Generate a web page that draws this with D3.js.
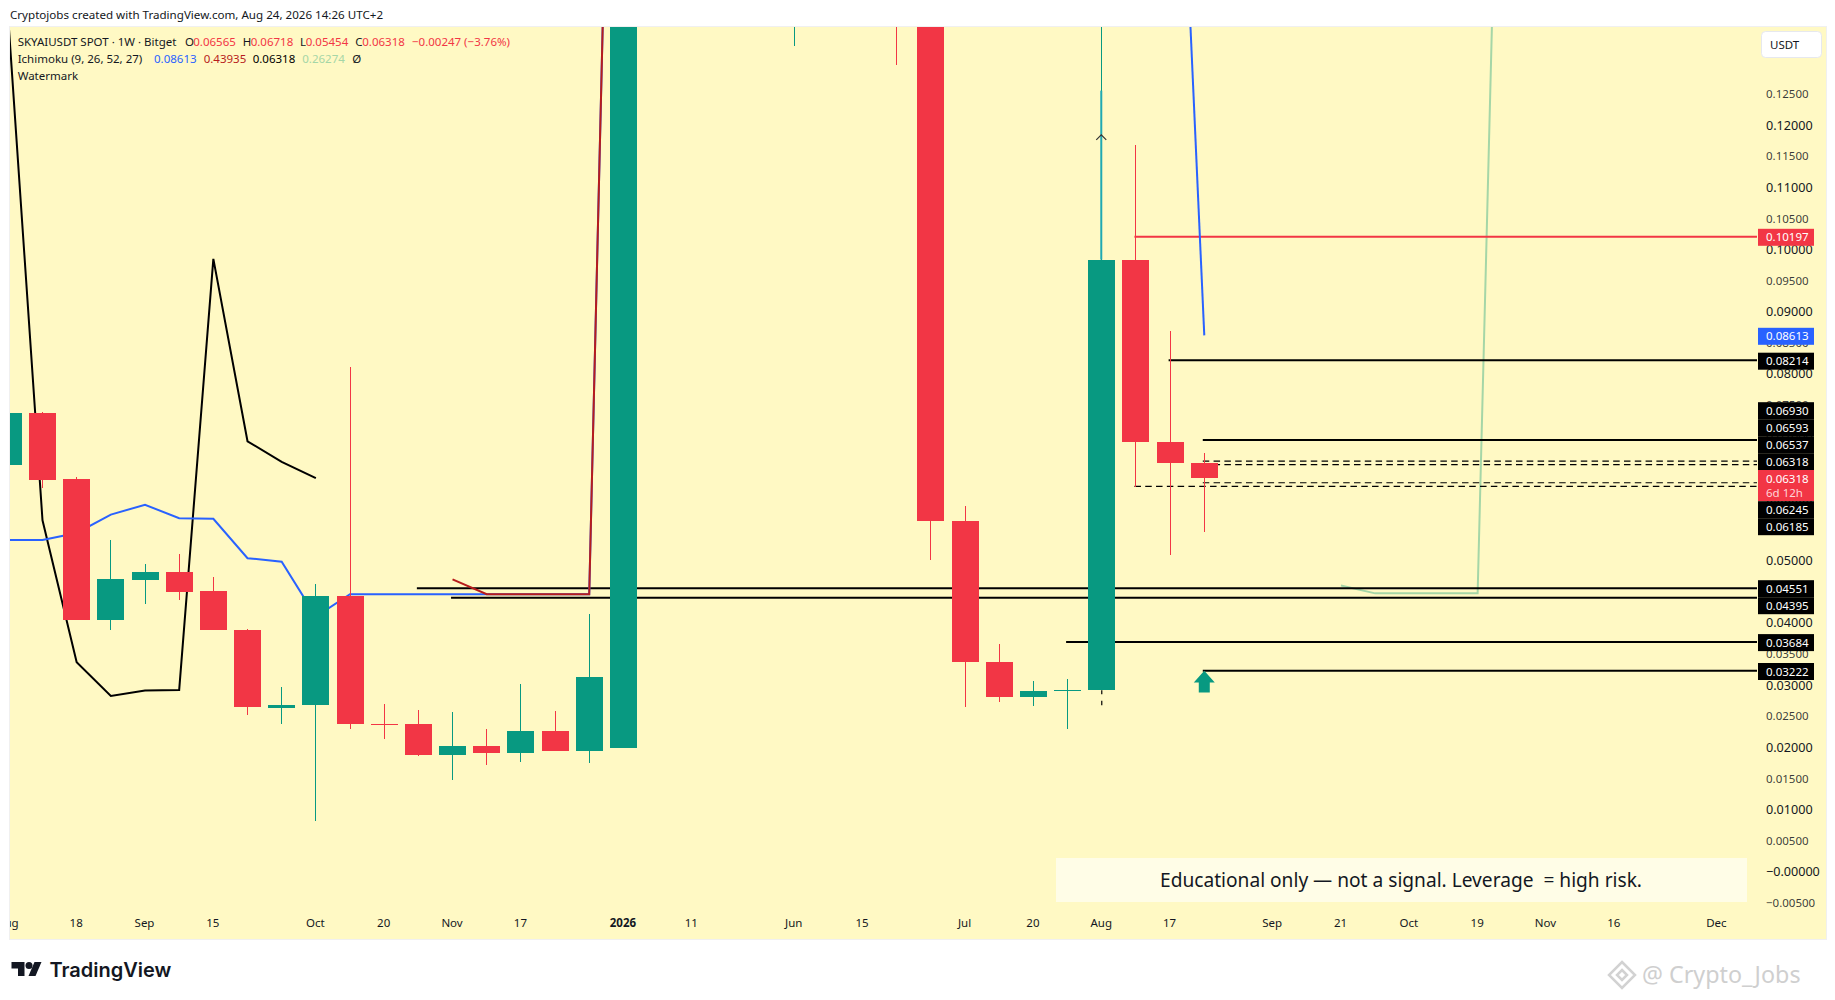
<!DOCTYPE html>
<html>
<head>
<meta charset="utf-8">
<title>SKYAIUSDT</title>
<script src="https://cdn.jsdelivr.net/npm/d3@7"></script>
<style>
  body { margin: 0; background: #fff; }
  svg text { font-family: "Noto Sans", sans-serif; }
</style>
</head>
<body>
<svg id="chart" width="1835" height="1000"></svg>
<script>
// week index, 0 = first full candle. -1 is the one cut by the left edge
var candleIndex = [-1, 0, 1, 2, 3, 4, 5, 6, 7, 8, 9, 10, 11, 12, 13, 14, 15, 16, 17, 22, 25, 26, 27, 28, 29, 30, 31, 32, 33, 34];
var opens  = [.06536, .07372, .06311, .04034, .04688, .04817, .04511, .03885, .02631, .02668, .04431, .02374, .02374, .01876, .02020, .01908, .02261, .01940, .01988, .19, .21, .21, .05636, .03370, .02797, .02910, .02909, .09831, .06906, .06565];
var closes = [.07372, .06295, .04034, .04704, .04817, .04495, .03873, .02636, .02679, .04431, .02363, .02361, .01876, .02020, .01908, .02261, .01940, .03129, .2, .2, .2, .05625, .03359, .02797, .02904, .02915, .09831, .06895, .06557, .06318];
var highs  = [.07372, .07388, .06344, .05331, .04945, .05106, .04736, .03901, .02969, .04624, .08104, .02695, .02599, .02567, .02294, .03017, .02583, .04142, .2, .2, .21, .21, .05878, .03660, .03065, .03097, .2, .11679, .08690, .06718];
var lows   = [.06536, .06167, .04034, .03873, .04291, .04367, .03873, .02507, .02363, .00804, .02282, .02121, .01848, .01463, .01704, .01752, .01940, .01736, .01988, .13259, .12954, .04998, .02636, .02716, .02652, .02282, .02909, .06178, .05079, .05454];

// ichimoku lines, index and value
var laggingIndex = [-1, 0, 1, 2, 3, 4, 5, 6, 7, 8];
var laggingValues = [.1369, .05641, .03359, .02819, .02904, .02915, .09843, .06911, .06580, .06318];
var conversionIndex = [-1, 0, 1, 2, 3, 4, 5, 6, 7, 8, 9, 13, 16, 17];
var conversionValues = [.05326, .05326, .05438, .05733, .05891, .05674, .05665, .05032, .04977, .04093, .04453, .04453, .04453, .276];
var conversion2Index = [33, 34];
var conversion2Values = [.2089, .08613];
var baseIndex = [12, 13, 16, 17];
var baseValues = [.04693, .04453, .04453, .276];
var spanIndex = [38, 39, 42, 43];
var spanValues = [.04593, .04467, .04467, .26274];

// drawn levels: price, first week index, dashed or not
var levelPrices = [.10197, .08214, .06930, .06593, .06537, .06245, .06185, .04551, .04395, .03684, .03222];
var levelStarts = [32, 33, 34, 34, 34, 34, 32, 11, 12, 30, 34];
var levelDashed = [false, false, false, true, true, true, true, false, false, false, false];
var levelColors = ["#f23645", "#000", "#000", "#000", "#000", "#000", "#000", "#000", "#000", "#000", "#000"];

// axis
var priceTicks = [-.005, 0, .005, .01, .015, .02, .025, .03, .035, .04, .045, .05, .055, .06, .065, .07, .075, .08, .085, .09, .095, .1, .105, .11, .115, .12, .125];
var timeTicks = [-1, 1, 3, 5, 8, 10, 12, 14, 17, 19, 22, 24, 27, 29, 31, 33, 36, 38, 40, 42, 44, 46, 49];
var timeLabels = ["Aug", "18", "Sep", "15", "Oct", "20", "Nov", "17", "2026", "11", "Jun", "15", "Jul", "20", "Aug", "17", "Sep", "21", "Oct", "19", "Nov", "16", "Dec"];

// tags on the price axis, with the y the axis pushed each one to
var tagTexts = ["0.10197", "0.08613", "0.08214", "0.06930", "0.06593", "0.06537", "0.06318", "0.06245", "0.06185", "0.04551", "0.04395", "0.03684", "0.03222"];
var tagYs = [237.3, 336.3, 361.2, 410.7, 427.7, 444.7, 461.7, 509.7, 526.7, 588.7, 605.7, 642.6, 671.5];
var tagColors = ["#f23645", "#2962ff", "#000", "#000", "#000", "#000", "#000", "#000", "#000", "#000", "#000", "#000", "#000"];

var RED = "#f23645", GREEN = "#089981", BG = "#fff9c4";
var plotLeft = 10, plotTop = 27, plotRight = 1826, plotBottom = 939, axisLeft = 1757;

var svg = d3.select("#chart");
var x = d3.scaleLinear().domain([0, 49]).range([42.5, 1716.83]);
var y = d3.scaleLinear().domain([0, .1]).range([871.3, 249.1]);

// panel
svg.append("rect").attr("x", plotLeft - .5).attr("y", plotTop - .5)
    .attr("width", plotRight - plotLeft + 1).attr("height", plotBottom - plotTop + 1)
    .attr("fill", BG).attr("stroke", "#f0f0f0").attr("stroke-width", 1);

var defs = svg.append("defs");
defs.append("clipPath").attr("id", "plotClip").append("rect")
    .attr("x", plotLeft).attr("y", plotTop)
    .attr("width", plotRight - plotLeft).attr("height", plotBottom - plotTop);

var plot = svg.append("g").attr("clip-path", "url(#plotClip)");

function drawLine(indexes, values, color) {
    var line = d3.line().x(function(d){ return x(d); })
        .y(function(d, i){ return y(values[i]); });
    plot.append("path").attr("d", line(indexes))
        .attr("fill", "none").attr("stroke", color).attr("stroke-width", 2);
}

drawLine(spanIndex, spanValues, "#a5d6a7");

// levels go behind everything else
levelPrices.forEach(function(p, i){
    plot.append("line")
        .attr("x1", x(levelStarts[i]) - 1.5).attr("x2", axisLeft)
        .attr("y1", y(p)).attr("y2", y(p))
        .attr("stroke", levelColors[i])
        .attr("stroke-width", levelDashed[i] ? 1.2 : 2)
        .attr("stroke-dasharray", levelDashed[i] ? "6.5,4.3" : null);
});

drawLine(laggingIndex, laggingValues, "#000");
drawLine(conversionIndex, conversionValues, "#2962ff");
drawLine(conversion2Index, conversion2Values, "#2962ff");
drawLine(baseIndex, baseValues, "#b71c1c");

// candles
candleIndex.forEach(function(idx, i){
    var up = closes[i] >= opens[i];
    var color = up ? GREEN : RED;
    var left = Math.round(x(idx) - 13.5);
    plot.append("line").attr("x1", left + 13.5).attr("x2", left + 13.5)
        .attr("y1", y(highs[i])).attr("y2", y(lows[i]))
        .attr("stroke", color).attr("stroke-width", 1)
        .attr("shape-rendering", "crispEdges");
    if (idx == 22 || idx == 25) return; // only the wick hangs into view
    var top = y(Math.max(opens[i], closes[i]));
    var h = Math.abs(y(opens[i]) - y(closes[i]));
    plot.append("rect").attr("x", left).attr("y", top)
        .attr("width", 27).attr("height", Math.max(h, 1))
        .attr("fill", color).attr("shape-rendering", "crispEdges");
});

// pump marker on the big August week
plot.append("line").attr("x1", x(31) - .5).attr("x2", x(31) - .5)
    .attr("y1", y(.12547)).attr("y2", y(.09831))
    .attr("stroke", "#1fa9b3").attr("stroke-width", 2);
plot.append("path")
    .attr("d", d3.line()([[x(31) - 5.5, y(.11795) + 2.5], [x(31) - .5, y(.11795) - 2.5], [x(31) + 4.5, y(.11795) + 2.5]]))
    .attr("fill", "none").attr("stroke", "#333").attr("stroke-width", 1.2);
plot.append("line").attr("x1", x(31)).attr("x2", x(31))
    .attr("y1", y(.02909)).attr("y2", y(.02631))
    .attr("stroke", "#000").attr("stroke-width", 1.2).attr("stroke-dasharray", "4,6.5,4.5");

// green arrow under the last candle
var ax = x(34), ay = y(.03222);
plot.append("path")
    .attr("d", "M" + ax + "," + ay + "l10.5,11.7h-5v10h-11v-10h-5z")
    .attr("fill", GREEN);

// price axis
var yAxis = d3.axisRight(y).tickValues(priceTicks).tickSize(0).tickPadding(0)
    .tickFormat(function(d){
        if (Math.abs(d) < 1e-9) return "\u22120.00000";
        return (d < 0 ? "\u2212" : "") + Math.abs(d).toFixed(5);
    });
var yG = svg.append("g").attr("transform", "translate(1766,.4)").call(yAxis);
yG.select(".domain").remove();
yG.selectAll("text")
    .attr("fill", "#131722")
    .style("font-size", function(d){ return Math.round(d * 1000) % 10 == 0 ? "12.6px" : "11.5px"; })
    .style("fill-opacity", function(d){ return Math.round(d * 1000) % 10 == 0 ? 1 : .85; });

// time axis
var xAxis = d3.axisBottom(x).tickValues(timeTicks).tickSize(0).tickPadding(0)
    .tickFormat(function(d, i){ return timeLabels[i]; });
var xG = svg.append("g").attr("clip-path", "url(#plotClip)")
    .append("g").attr("transform", "translate(-1,919)").call(xAxis);
xG.select(".domain").remove();
xG.selectAll("text").attr("fill", "#131722").style("font-size", "11.5px")
    .style("font-weight", function(d, i){ return timeLabels[i] == "2026" ? 700 : 400; });

// tags
tagTexts.forEach(function(t, i){
    svg.append("rect").attr("x", 1758).attr("y", tagYs[i] - 8.5)
        .attr("width", 56).attr("height", 17).attr("fill", tagColors[i]);
    svg.append("text").attr("x", 1766).attr("y", tagYs[i]).attr("dy", ".35em")
        .attr("fill", "#fff").style("font-size", "11.5px").text(t);
});
svg.append("rect").attr("x", 1758).attr("y", 470).attr("width", 56).attr("height", 31).attr("fill", RED);
svg.append("text").attr("x", 1766).attr("y", 478.7).attr("dy", ".35em").attr("fill", "#fff")
    .style("font-size", "11.5px").text("0.06318");
svg.append("text").attr("x", 1766).attr("y", 492.7).attr("dy", ".35em").attr("fill", "#ffd5d8")
    .style("font-size", "11.5px").text("6d 12h");

// USDT button
svg.append("rect").attr("x", 1761.5).attr("y", 31.5).attr("width", 60).attr("height", 26).attr("rx", 4)
    .attr("fill", "#fff").attr("stroke", "#e6e8ee");
svg.append("text").attr("x", 1770).attr("y", 44.5).attr("dy", ".35em").attr("fill", "#131722")
    .style("font-size", "11.5px").text("USDT");

// header and legend
function label(tx, ty, str, color, size) {
    return svg.append("text").attr("x", tx).attr("y", ty).attr("dy", ".35em")
        .attr("fill", color || "#131722").style("font-size", (size || 11.5) + "px").text(str);
}
label(10, 14.7, "Cryptojobs created with TradingView.com, Aug 24, 2026 14:26 UTC+2", "#131722", 11.6);
label(17.7, 41.7, "SKYAIUSDT SPOT \u00b7 1W \u00b7 Bitget");
label(185, 41.7, "O"); label(193.3, 41.7, "0.06565", RED);
label(242.7, 41.7, "H"); label(250.7, 41.7, "0.06718", RED);
label(300, 41.7, "L"); label(305.7, 41.7, "0.05454", RED);
label(355.3, 41.7, "C"); label(362.3, 41.7, "0.06318", RED);
label(412, 41.7, "\u22120.00247 (\u22123.76%)", RED);
label(17.7, 58.7, "Ichimoku (9, 26, 52, 27)");
label(154, 58.7, "0.08613", "#2962ff");
label(203.7, 58.7, "0.43935", "#b71c1c");
label(252.7, 58.7, "0.06318", "#000");
label(302.3, 58.7, "0.26274", "#a5d6a7");
label(352.3, 58.7, "\u00d8");
label(17.7, 75.7, "Watermark");

// disclaimer box
svg.append("rect").attr("x", 1056).attr("y", 858).attr("width", 691).attr("height", 44)
    .attr("fill", "#fff").attr("fill-opacity", .6);
label(1160, 880, "Educational only \u2014 not a signal. Leverage  = high risk.", "#131722", 20)
    .style("white-space", "pre")
    .attr("textLength", 482).attr("lengthAdjust", "spacingAndGlyphs");

// TradingView logo
var logo = svg.append("g").attr("transform", "translate(11.5,962)").attr("fill", "#131722");
logo.append("path").attr("d", "M0,0h13v14h-6.5v-7.5h-6.5z");
logo.append("circle").attr("cx", 17.5).attr("cy", 3.5).attr("r", 3.5);
logo.append("path").attr("d", "M23,0h7l-6,14h-7z");
label(49.5, 969.5, "TradingView", "#131722", 20).style("font-family", "Inter").style("font-weight", 600);

// author watermark
var mark = svg.append("g").attr("transform", "translate(1622,975)").attr("fill", "none").attr("stroke", "#d2d2d2").attr("stroke-width", 2.5);
mark.append("path").attr("d", "M0,-13L13,0L0,13L-13,0Z");
mark.append("path").attr("d", "M0,-5L5,0L0,5L-5,0Z");
label(1642, 975, "@ Crypto_Jobs", "#cfcfcf", 23.3);
</script>
</body>
</html>
